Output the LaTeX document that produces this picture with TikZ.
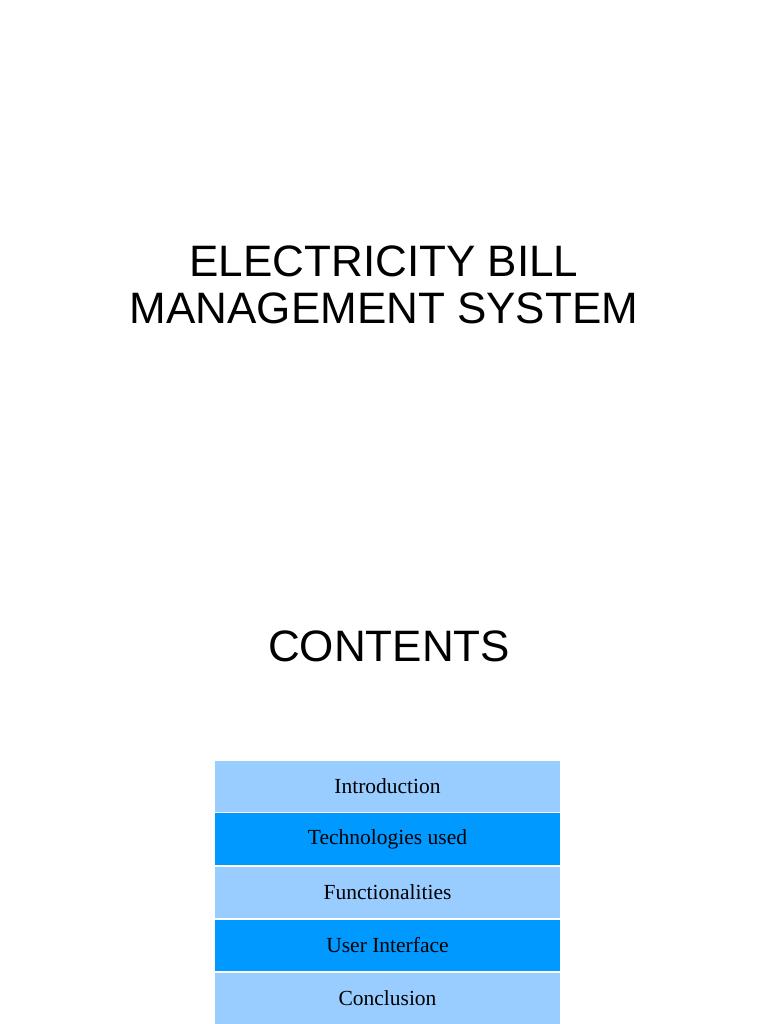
\documentclass[tikz,border=0pt]{standalone}
\usepackage{fontspec}
\setmainfont{Liberation Serif}
\newfontfamily\titlefont{Liberation Sans}
\definecolor{lightrow}{HTML}{99CCFF}
\definecolor{darkrow}{HTML}{0099FF}
\begin{document}
\begin{tikzpicture}[x=1pt,y=-1pt,
  titletext/.style={font=\titlefont\fontsize{44}{47}\selectfont,align=center,inner sep=0pt},
  rowbox/.style={minimum width=345pt,minimum height=51.5pt,inner sep=0pt,font=\fontsize{21.5}{24}\selectfont},
  lightbox/.style={rowbox,fill=lightrow},
  darkbox/.style={rowbox,fill=darkrow}]
\useasboundingbox (0,0) rectangle (768,1024);
\node[titletext] (title) at (384,285) {ELECTRICITY BILL\\MANAGEMENT SYSTEM};
\node[titletext] (contents) at (389,646) {CONTENTS};
\node[lightbox] (r1) at (387.5,786.5) {Introduction};
\node[darkbox] (r2) at (387.5,839) {Technologies used};
\node[lightbox] (r3) at (387.5,892.5) {Functionalities};
\node[darkbox] (r4) at (387.5,945.5) {User Interface};
\node[lightbox] (r5) at (387.5,998.5) {Conclusion};
\end{tikzpicture}
\end{document}
